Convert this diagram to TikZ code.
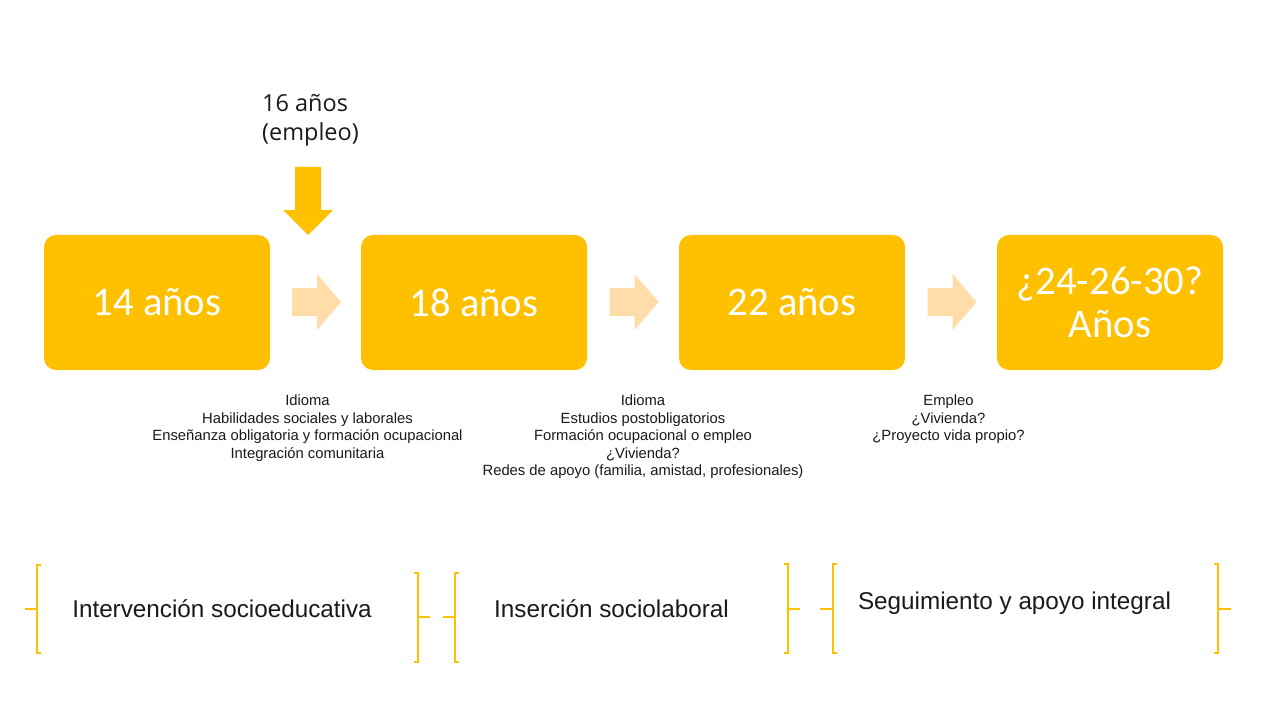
\documentclass[tikz,border=0pt]{standalone}
\usepackage{fontspec}
\setmainfont{Liberation Sans}
\newfontfamily\boxfont{Carlito}
\newfontfamily\topfont{Open Sans}
\definecolor{gold}{HTML}{FFC000}
\definecolor{peach}{HTML}{FFDCA8}
\definecolor{ink}{HTML}{1A1A1A}
\tikzset{
  agebox/.style={rectangle, rounded corners=9pt, fill=gold, draw=none,
    minimum width=169.5pt, minimum height=101.25pt, text=white, align=center,
    font=\boxfont\fontsize{30.5pt}{32pt}\selectfont, inner sep=0pt},
  pics/flowarrow/.style={code={
    \fill[peach] (-24.5,-14) -- (0.5,-14) -- (0.5,-28) -- (24.5,0) -- (0.5,28) -- (0.5,14) -- (-24.5,14) -- cycle;
    \coordinate (-tip) at (24.5,0);}},
  pics/downarrow/.style={code={
    \fill[gold] (-13,-34) -- (13,-34) -- (13,9) -- (25,9) -- (0,34) -- (-25,9) -- (-13,9) -- cycle;
    \coordinate (-tip) at (0,34);}},
  notes/.style={align=center, text=ink, inner sep=0pt,
    font=\fontsize{11.1pt}{13.1pt}\selectfont},
  phase/.style={text=ink, inner sep=0pt, font=\fontsize{18.2pt}{20pt}\selectfont},
  brack/.style={draw=gold, line width=1.5pt},
}
\begin{document}
\begin{tikzpicture}[x=0.75pt,y=-0.75pt]
\useasboundingbox (0,0) rectangle (1280,720);
\fill[white] (0,0) rectangle (1280,720);

% boxes
\node[agebox] (b14) at (157,302.5) {14 años};
\node[agebox] (b18) at (474,302.5) {18 años};
\node[agebox] (b22) at (792,302.5) {22 años};
\node[agebox] (b24) at (1110,302.5) {¿24-26-30?\\Años};

% arrows between boxes
\pic (a1) at (316.5,302) {flowarrow};
\pic (a2) at (634,302) {flowarrow};
\pic (a3) at (952,302) {flowarrow};

% 16 años
\node[align=left, text=ink, inner sep=0pt, font=\topfont\fontsize{17.6pt}{21.75pt}\selectfont] (t16) at (310.5,120) {16 años\\(empleo)};
\pic (d16) at (308,201) {downarrow};

% notes
\node[notes] (n1) at (307.5,428) {Idioma\\Habilidades sociales y laborales\\Enseñanza obligatoria y formación ocupacional\\Integración comunitaria};
\node[notes] (n2) at (643,437) {Idioma\\Estudios postobligatorios\\Formación ocupacional o empleo\\¿Vivienda?\\Redes de apoyo (familia, amistad, profesionales)};
\node[notes] (n3) at (948.5,419.5) {Empleo\\¿Vivienda?\\¿Proyecto vida propio?};

% phase labels
\node[phase] (p1) at (222,609) {Intervención socioeducativa};
\node[phase] (p2) at (611.5,609) {Inserción sociolaboral};
\node[phase] (p3) at (1014.5,603) {Seguimiento y apoyo integral};

% brackets
\draw[brack] (41,565) -- (37,565) -- (37,653) -- (41,653);
\draw[brack] (25,609) -- (37,609);
\draw[brack] (414,573) -- (418,573) -- (418,662) -- (414,662);
\draw[brack] (418,617) -- (430,617);
\draw[brack] (459,573) -- (455,573) -- (455,662) -- (459,662);
\draw[brack] (443,617) -- (455,617);
\draw[brack] (784,564) -- (788,564) -- (788,653) -- (784,653);
\draw[brack] (788,609) -- (800,609);
\draw[brack] (837,564) -- (833,564) -- (833,653) -- (837,653);
\draw[brack] (820,609) -- (833,609);
\draw[brack] (1214,564) -- (1218,564) -- (1218,653) -- (1214,653);
\draw[brack] (1218,609) -- (1231,609);
\end{tikzpicture}
\end{document}
